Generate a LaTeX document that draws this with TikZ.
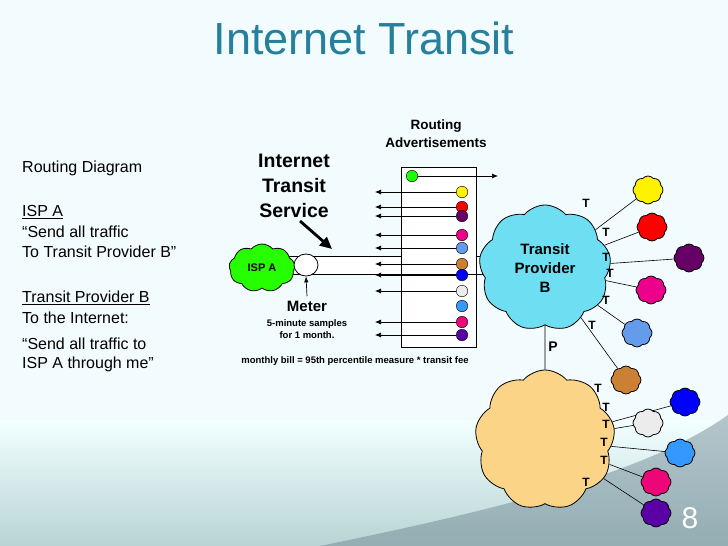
\documentclass[tikz,border=0pt]{standalone}
\usepackage{fontspec}
\setmainfont{Liberation Sans}
\usetikzlibrary{shapes.symbols,shapes.geometric,arrows.meta}
\pgfdeclarelayer{back}
\pgfdeclarelayer{bg}
\pgfsetlayers{back,bg,main}
\definecolor{ttl}{RGB}{38,128,155}
\definecolor{cyb}{RGB}{110,222,242}
\definecolor{orb}{RGB}{252,212,135}
\definecolor{lbl}{RGB}{100,155,235}
\begin{document}
\begin{tikzpicture}[x=1pt,y=-1pt,
  cl/.style={cloud,cloud puffs=9,cloud puff arc=100,draw=black,line width=0.8pt,inner sep=0pt},
  sc/.style={cl,cloud puffs=8,minimum width=30pt,minimum height=28pt,aspect=1},
  dot/.style={circle,draw=black,line width=0.4pt,inner sep=0pt,minimum size=11.5pt},
  adv/.style={-{Latex[length=6pt,width=5pt]},line width=0.7pt},
  tl/.style={font=\bfseries\fontsize{12}{12}\selectfont,inner sep=0pt},
  lt/.style={anchor=west,font=\fontsize{16}{18}\selectfont,inner sep=0pt}]
\useasboundingbox (0,0) rectangle (728,546);
\begin{pgfonlayer}{back}
\fill[white!95!cyan] (0,0) rectangle (728,546);
\shade[top color=white!95!cyan,bottom color=cyan!25!gray!45] (0,420) rectangle (728,546);
\fill[cyan!40!gray!70!black,opacity=0.45] (320,546) .. controls (520,505) and (650,470) .. (728,415) -- (728,546) -- cycle;
\end{pgfonlayer}
\node[font=\fontsize{45}{50}\selectfont,text=ttl] (title) at (364,38) {Internet Transit};
\node[lt] (l1) at (22,168) {Routing Diagram};
\node[lt] (l2) at (22,212) {\underline{ISP A}};
\node[lt] (l3) at (22,232) {“Send all traffic};
\node[lt] (l4) at (22,252) {To Transit Provider B”};
\node[lt] (l5) at (22,298) {\underline{Transit Provider B}};
\node[lt] (l6) at (22,318) {To the Internet:};
\node[lt] (l7) at (22,344) {“Send all traffic to};
\node[lt] (l8) at (22,364) {ISP A through me”};
\node[font=\bfseries\fontsize{19.5}{25}\selectfont,align=center] (its) at (294,186) {Internet\\Transit\\Service};
\node[font=\bfseries\fontsize{13.5}{18}\selectfont,align=center] (ra) at (436,134) {Routing\\Advertisements};
% pipe
\fill[white] (285,256) rectangle (500,274);
\draw[line width=0.8pt] (285,256) -- (500,256) (285,274) -- (500,274);
% box
\node[draw=black,fill=white,line width=0.6pt,minimum width=75pt,minimum height=180pt,inner sep=0pt] (box) at (438.5,257) {};
\draw[line width=0.8pt] (401,274) -- (476,274);
\node[cl,fill=green!80!lime,minimum width=66pt,minimum height=48pt,font=\bfseries\fontsize{11}{12}\selectfont] (ispa) at (262,268) {ISP A};
\node[ellipse,draw,fill=white,line width=0.8pt,minimum width=24pt,minimum height=22pt,inner sep=0pt] (meter) at (306,265) {};
\node[font=\bfseries\fontsize{15}{16}\selectfont] (mt) at (307,306) {Meter};
\draw[-{Latex[length=6pt]},line width=0.7pt] (mt.north) ++(0,-1) -- (meter.south);
\node[font=\bfseries\fontsize{9.5}{12}\selectfont,align=center] (ms) at (307,329) {5-minute samples\\for 1 month.};
\node[font=\bfseries\fontsize{9.5}{10}\selectfont] (bill) at (355,361) {monthly bill = 95th percentile measure * transit fee};
\coordinate (ia) at (300,221);
\draw[-{Triangle[length=12pt,width=11pt]},line width=2.8pt] (ia) -- (332,249);
\coordinate (ar) at (498,176);
\node[dot,fill=green!85!lime] (g) at (412,176) {};
\draw[adv] (g) -- (ar);
\foreach \n/\y/\c in {d1/192/yellow, d2/207/red, d3/216/violet!80!black, d4/235/magenta, d5/248/lbl, d6/264/brown!80!orange, d7/275/blue, d8/291/gray!15, d10/322/magenta!80!red, d11/335/violet!70!blue}{
  \node[dot,fill=\c] (\n) at (462,\y) {};
  \coordinate (\n e) at (375,\y);
  \draw[adv] (\n) -- (\n e);
}
\node[dot,fill=blue!50!cyan!80] (d9) at (462,306) {};
\node[cl,fill=cyb,minimum width=132pt,minimum height=126pt,font=\bfseries\fontsize{15}{19}\selectfont,align=center] (B) at (545,268) {Transit\\Provider\\B};
\node[cl,fill=orb,minimum width=140pt,minimum height=140pt] (O) at (545,440) {};
\node[font=\bfseries\fontsize{14}{14}\selectfont,inner sep=0pt] (P) at (553,347) {P};
\begin{pgfonlayer}{bg}\draw[line width=0.6pt] (B) -- (O);\end{pgfonlayer}
\foreach \n/\x/\y/\c/\src/\tx/\ty in {
 c1/648/190/yellow/B/586/203, c2/652/227/red/B/606/232, c3/689/258/violet!80!black/B/606/257,
 c4/651/290/magenta/B/610/273, c5/637/333/lbl/B/606/300, c6/626/380/brown!80!orange/B/592/325,
 c7/685/402/blue/O/598/388, c8/648/423/gray!15/O/606/407, c9/680/453/blue!50!cyan!80/O/606/424,
 c10/656/482/magenta!80!red/O/604/442, c11/656/513/violet!70!blue/O/604/460}{
  \node[sc,fill=\c] (\n) at (\x,\y) {};
  \begin{pgfonlayer}{bg}\draw[line width=0.6pt] (\src) -- (\n);\end{pgfonlayer}
  \node[tl] (t\n) at (\tx,\ty) {T};
}
\node[tl] (t12) at (586,482) {T};
\node[text=white,font=\fontsize{30}{32}\selectfont] (pg) at (690,518) {8};
\end{tikzpicture}
\end{document}
